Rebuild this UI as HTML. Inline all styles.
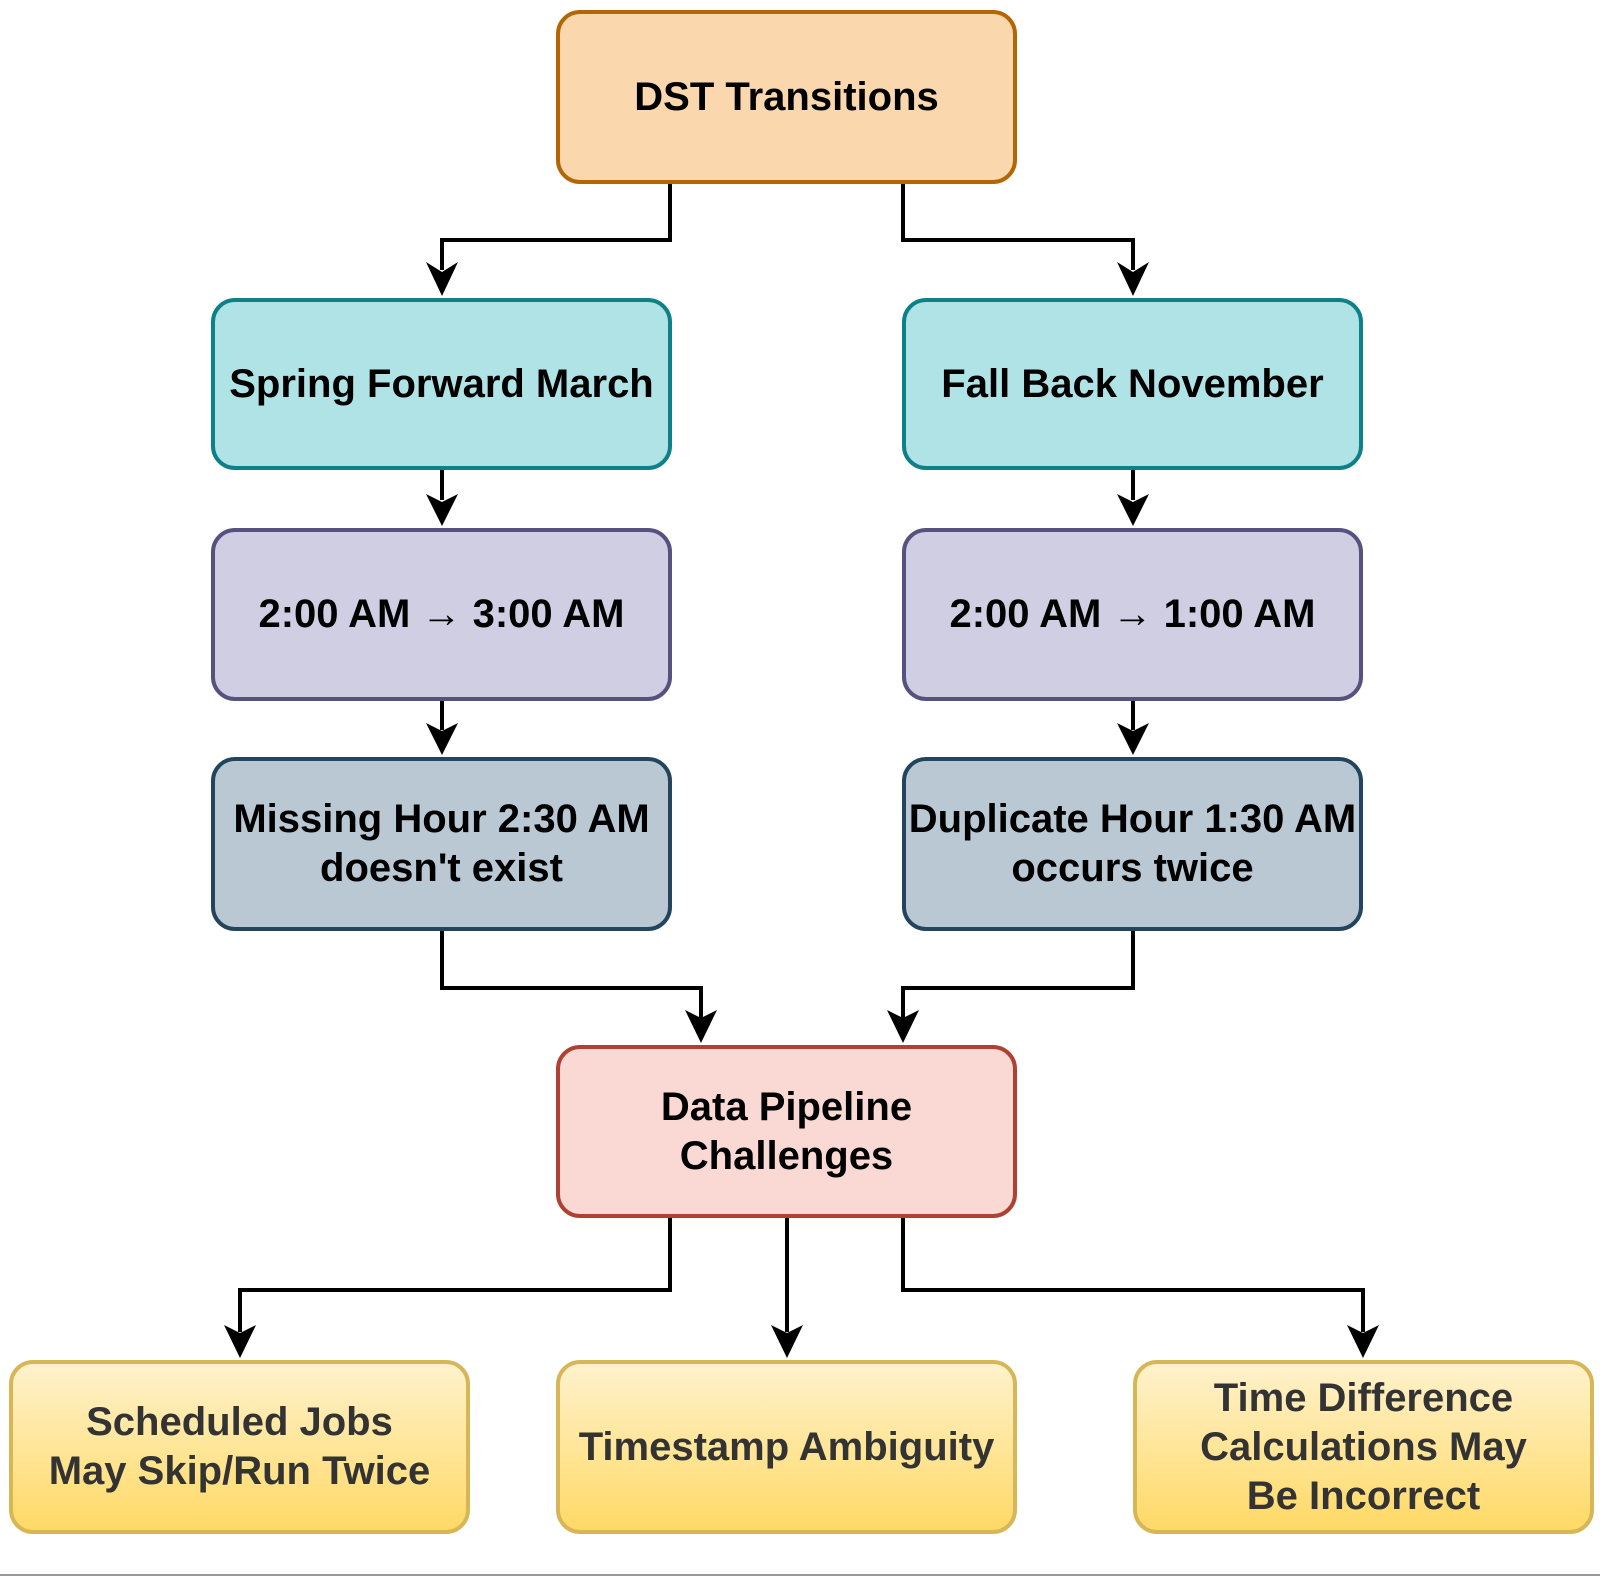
<!DOCTYPE html>
<html><head><meta charset="utf-8"><style>
body{margin:0;background:#fff;width:1600px;height:1577px;overflow:hidden;position:relative;font-family:"Liberation Sans",Arial,sans-serif}
.b{position:absolute;box-sizing:border-box;border:4px solid;border-radius:24px;display:flex;align-items:center;justify-content:center;text-align:center;font-weight:bold;font-size:40px;line-height:49px;color:#000;white-space:nowrap}
.y{background:linear-gradient(#fff2cc,#ffd966);border-color:#d6b656;color:#333;font-size:40px;line-height:49px}
</style></head><body>
<svg width="1600" height="1577" style="position:absolute;left:0;top:0">
<g fill="none" stroke="#000" stroke-width="4">
<polyline points="670,184 670,240 442,240 442,270"/>
<polyline points="903,184 903,240 1133,240 1133,270"/>
<line x1="442" y1="470" x2="442" y2="500"/>
<line x1="1133" y1="470" x2="1133" y2="500"/>
<line x1="442" y1="701" x2="442" y2="730"/>
<line x1="1133" y1="701" x2="1133" y2="730"/>
<polyline points="442,931 442,988 701,988 701,1018"/>
<polyline points="1133,931 1133,988 903,988 903,1018"/>
<polyline points="670,1218 670,1290 240,1290 240,1332"/>
<line x1="787" y1="1218" x2="787" y2="1332"/>
<polyline points="903,1218 903,1290 1363,1290 1363,1332"/>
<line x1="1612" y1="1575" x2="0" y2="1575" stroke="#999" stroke-width="2"/>
</g>
<g fill="#000">
<polygon points="426,262 442,296 458,262 442,272"/>
<polygon points="1117,262 1133,296 1149,262 1133,272"/>
<polygon points="426,494 442,526 458,494 442,502"/>
<polygon points="1117,494 1133,526 1149,494 1133,502"/>
<polygon points="426,723 442,755 458,723 442,731"/>
<polygon points="1117,723 1133,755 1149,723 1133,731"/>
<polygon points="685,1010 701,1043 717,1010 701,1018"/>
<polygon points="887,1010 903,1043 919,1010 903,1018"/>
<polygon points="224,1325 240,1358 256,1325 240,1333"/>
<polygon points="771,1325 787,1358 803,1325 787,1333"/>
<polygon points="1347,1325 1363,1358 1379,1325 1363,1333"/>
</g>
</svg>
<div class="b" style="left:556px;top:10px;width:461px;height:174px;background:#fad7ac;border-color:#b46504">DST Transitions</div>
<div class="b" style="left:211px;top:298px;width:461px;height:172px;background:#b0e3e6;border-color:#0e8088">Spring Forward March</div>
<div class="b" style="left:902px;top:298px;width:461px;height:172px;background:#b0e3e6;border-color:#0e8088">Fall Back November</div>
<div class="b" style="left:211px;top:528px;width:461px;height:173px;background:#d0cee2;border-color:#56517e">2:00 AM → 3:00 AM</div>
<div class="b" style="left:902px;top:528px;width:461px;height:173px;background:#d0cee2;border-color:#56517e">2:00 AM → 1:00 AM</div>
<div class="b" style="left:211px;top:757px;width:461px;height:174px;background:#bac8d3;border-color:#23445d">Missing Hour 2:30 AM<br>doesn't exist</div>
<div class="b" style="left:902px;top:757px;width:461px;height:174px;background:#bac8d3;border-color:#23445d">Duplicate Hour 1:30 AM<br>occurs twice</div>
<div class="b" style="left:556px;top:1045px;width:461px;height:173px;background:#fad9d5;border-color:#ae4132">Data Pipeline<br>Challenges</div>
<div class="b y" style="left:9px;top:1360px;width:461px;height:174px">Scheduled Jobs<br>May Skip/Run Twice</div>
<div class="b y" style="left:556px;top:1360px;width:461px;height:174px">Timestamp Ambiguity</div>
<div class="b y" style="left:1133px;top:1360px;width:461px;height:174px">Time Difference<br>Calculations May<br>Be Incorrect</div>
</body></html>
